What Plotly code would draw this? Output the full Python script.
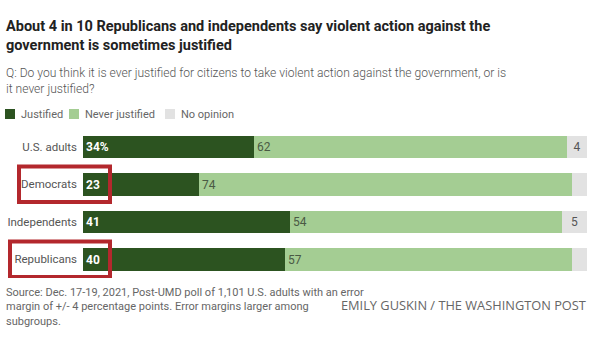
import plotly.graph_objects as go

categories = ["U.S. adults", "Democrats", "Independents", "Republicans"]
justified = [34, 23, 41, 40]
never_justified = [62, 74, 54, 57]
no_opinion = [4, 3, 5, 3]
justified_labels = ["34%", "23", "41", "40"]
never_labels = ["62", "74", "54", "57"]
noop_labels = ["4", "", "5", ""]
highlighted = ["Democrats", "Republicans"]

W, H = 593, 342
L, R, T, B = 83, 6, 128, 64
PW, PH = W - L - R, H - T - B

def px(x):
    return (x - L) / PW

def py(y):
    return (H - B - y) / PH

DARK = "#2c5320"
LIGHT = "#a4cd93"
GREY = "#e2e2e2"
ypos = list(range(len(categories)))

fig = go.Figure()
fig.add_bar(y=ypos, x=justified, orientation="h", marker_color=DARK, width=0.6,
            text=justified_labels, textposition="inside", insidetextanchor="start",
            textfont=dict(color="white", size=12, family="Roboto", weight="bold"),
            name="Justified", hoverinfo="skip")
fig.add_bar(y=ypos, x=never_justified, orientation="h", marker_color=LIGHT, width=0.6,
            text=never_labels, textposition="inside", insidetextanchor="start",
            textfont=dict(color="#4a5a44", size=12, family="Roboto"),
            name="Never justified", hoverinfo="skip")
fig.add_bar(y=ypos, x=no_opinion, orientation="h", marker_color=GREY, width=0.6,
            text=noop_labels, textposition="inside", insidetextanchor="middle",
            textfont=dict(color="#555", size=12, family="Roboto"),
            name="No opinion", hoverinfo="skip")

fig.update_traces(marker_line_width=0)

shapes = []
annotations = []
# highlight boxes
for cat in highlighted:
    i = categories.index(cat)
    left = 19 if cat == "Democrats" else 10
    shapes.append(dict(type="rect", xref="paper", yref="y",
                       x0=px(left), x1=px(110), y0=i - 0.475, y1=i + 0.475,
                       line=dict(color="#b3282d", width=4), fillcolor="rgba(0,0,0,0)", layer="above"))

# legend
leg = [("Justified", DARK, 5, 19), ("Never justified", LIGHT, 69, 83), ("No opinion", GREY, 165, 179)]
for name, col, sx, tx in leg:
    shapes.append(dict(type="rect", xref="paper", yref="paper", x0=px(sx), x1=px(sx + 10),
                       y0=py(119), y1=py(109), fillcolor=col, line=dict(width=0)))
    annotations.append(dict(text=name, xref="paper", yref="paper", x=px(tx), y=py(114),
                            xanchor="left", yanchor="middle", showarrow=False,
                            font=dict(size=11, color="#666", family="Roboto")))

annotations.append(dict(
    text="<b>About 4 in 10 Republicans and independents say violent action against the<br>government is sometimes justified</b>",
    xref="paper", yref="paper", x=px(4), y=py(16), xanchor="left", yanchor="top", align="left",
    showarrow=False, font=dict(size=14.5, color="#222", family="Roboto")))
annotations.append(dict(
    text="Q: Do you think it is ever justified for citizens to take violent action against the government, or is<br>it never justified?",
    xref="paper", yref="paper", x=px(4), y=py(64), xanchor="left", yanchor="top", align="left",
    showarrow=False, font=dict(size=12.1, color="#555", family="Roboto", weight=300)))
annotations.append(dict(
    text="Source: Dec. 17-19, 2021, Post-UMD poll of 1,101 U.S. adults with an error<br>margin of +/- 4 percentage points. Error margins larger among<br>subgroups.",
    xref="paper", yref="paper", x=px(4), y=py(284), xanchor="left", yanchor="top", align="left",
    showarrow=False, font=dict(size=11, color="#666", family="Roboto")))
annotations.append(dict(
    text="EMILY GUSKIN / THE WASHINGTON POST",
    xref="paper", yref="paper", x=px(588), y=py(305), xanchor="right", yanchor="middle",
    showarrow=False, font=dict(size=12.8, color="#666", family="Open Sans")))

fig.update_layout(
    width=W, height=H, margin=dict(l=L, r=R, t=T, b=B),
    barmode="stack", showlegend=False, bargap=0,
    plot_bgcolor="white", paper_bgcolor="white",
    xaxis=dict(range=[0, 100], visible=False, fixedrange=True),
    yaxis=dict(range=[3.5, -0.5], tickvals=ypos, ticktext=categories, showgrid=False,
               zeroline=False, showline=False, ticks="", ticklabelstandoff=5,
               tickfont=dict(size=11.5, color="#555", family="Roboto")),
    shapes=shapes, annotations=annotations,
)

fig.write_html("out.html")
